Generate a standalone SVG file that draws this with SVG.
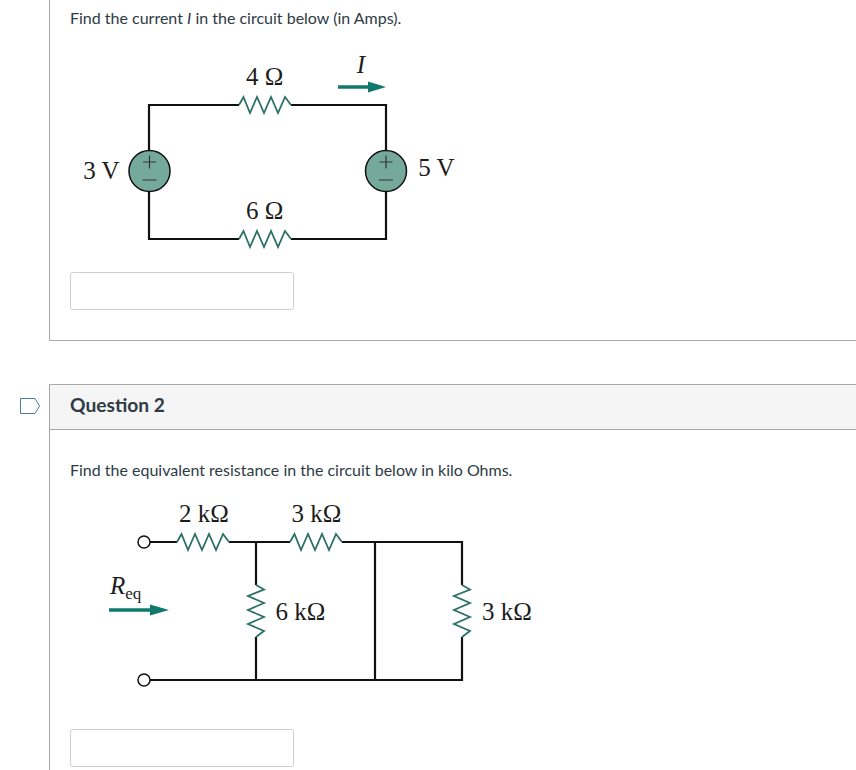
<svg xmlns="http://www.w3.org/2000/svg" width="856" height="770" viewBox="0 0 856 770">
<style>
.b{font-family:Lato,"Liberation Sans",sans-serif;font-size:16px;fill:#2d3b45}
.h{font-family:Lato,"Liberation Sans",sans-serif;font-size:19.200px;font-weight:700;fill:#2d3b45}
.s{font-family:"Liberation Serif",serif;font-size:25px;fill:#1c1c1c}
.w{fill:none;stroke:#111;stroke-width:2.200}
.r{fill:none;stroke:#2c7067;stroke-width:1.800;stroke-linejoin:miter}
.p{fill:none;stroke:#a8a8a8;stroke-width:1}
.i{fill:#fff;stroke:#cfcfcf;stroke-width:1}
.v{fill:#75a99c;stroke:#111;stroke-width:1.500}
.t{fill:#fff;stroke:#111;stroke-width:1.500}
.a{fill:#0f7a6c}
.m{fill:none;stroke:#333;stroke-width:1.200}
</style>
<g id="panels">
<rect x="49.500" y="384.500" width="807" height="45" fill="#f5f5f5"/>
<path class="p" d="M49.500 0V340.500H856M856 384.500H49.500V770M49.500 429.500H856"/>
<path d="M20.500 398.500H35L39.500 406L35 413.500H20.500Z" fill="#fff" stroke="#4a7f9f" stroke-width="1"/>
<text class="h" x="70" y="412">Question 2</text>
</g>
<g id="q1-text"><text class="b" x="70" y="24">Find the current <tspan font-style="italic">I</tspan> in the circuit below (in Amps).</text></g>
<g id="q2-text"><text class="b" x="70" y="476">Find the equivalent resistance in the circuit below in kilo Ohms.</text></g>
<g id="connectors">
<path class="w" d="M239 105H149V239H239M291 239H386V105H291"/>
<path class="w" d="M150 542H177M229 542H290M342 542H462V585M462 637V680H150M256 542V585M256 637V680M375 542V680"/>
</g>
<g id="r4"><path class="r" d="M239 105L243.500 97L250 113L257 97L264 113L271 97L278 113L285 97L291 105"/><text class="s" x="264.700" y="85" text-anchor="middle">4 Ω</text></g>
<g id="r6"><path class="r" d="M239 239L243.500 231L250 247L257 231L264 247L271 231L278 247L285 231L291 239"/><text class="s" x="264.700" y="219" text-anchor="middle">6 Ω</text></g>
<g id="v3"><circle class="v" cx="149.500" cy="171" r="20.500"/><path class="m" d="M143 162H156M149.500 155.500V168.500M142.500 180H156.500"/><text class="s" x="101.500" y="179" text-anchor="middle">3 V</text></g>
<g id="v5"><circle class="v" cx="386" cy="171" r="20.500"/><path class="m" d="M379.500 162H392.500M386 155.500V168.500M379 180H393"/><text class="s" x="436.500" y="176" text-anchor="middle">5 V</text></g>
<g id="current"><path class="a" d="M338 85.300H368V81.500L386 87L368 92.500V88.700H338Z"/><text class="s" x="361" y="73" text-anchor="middle" font-style="italic">I</text></g>
<g id="input1"><rect class="i" x="70.500" y="272.500" width="223" height="37" rx="2"/></g>
<g id="terminal-a"><circle class="t" cx="144" cy="542" r="6"/></g>
<g id="terminal-b"><circle class="t" cx="144" cy="680" r="6"/></g>
<g id="r2k"><path class="r" d="M177 542L181.500 534L188 550L195 534L202 550L209 534L216 550L223 534L229 542"/><text class="s" x="204" y="522" text-anchor="middle">2 kΩ</text></g>
<g id="r3k"><path class="r" d="M290 542L294.500 534L301 550L308 534L315 550L322 534L329 550L336 534L342 542"/><text class="s" x="316.500" y="522" text-anchor="middle">3 kΩ</text></g>
<g id="r6k"><path class="r" d="M256 585L264 589.500L248 596L264 603L248 610L264 617L248 624L264 631L256 637"/><text class="s" x="300.500" y="620" text-anchor="middle">6 kΩ</text></g>
<g id="r3k2"><path class="r" d="M462 585L470 589.500L454 596L470 603L454 610L470 617L454 624L470 631L462 637"/><text class="s" x="506.800" y="620" text-anchor="middle">3 kΩ</text></g>
<g id="req"><path class="a" d="M109 608.300H150V604.500L169 610L150 615.500V611.700H109Z"/><text class="s" x="110" y="594" font-style="italic">R<tspan font-size="17" font-style="normal" dy="5">eq</tspan></text></g>
<g id="input2"><rect class="i" x="70.500" y="729.500" width="223" height="37" rx="2"/></g>
</svg>
